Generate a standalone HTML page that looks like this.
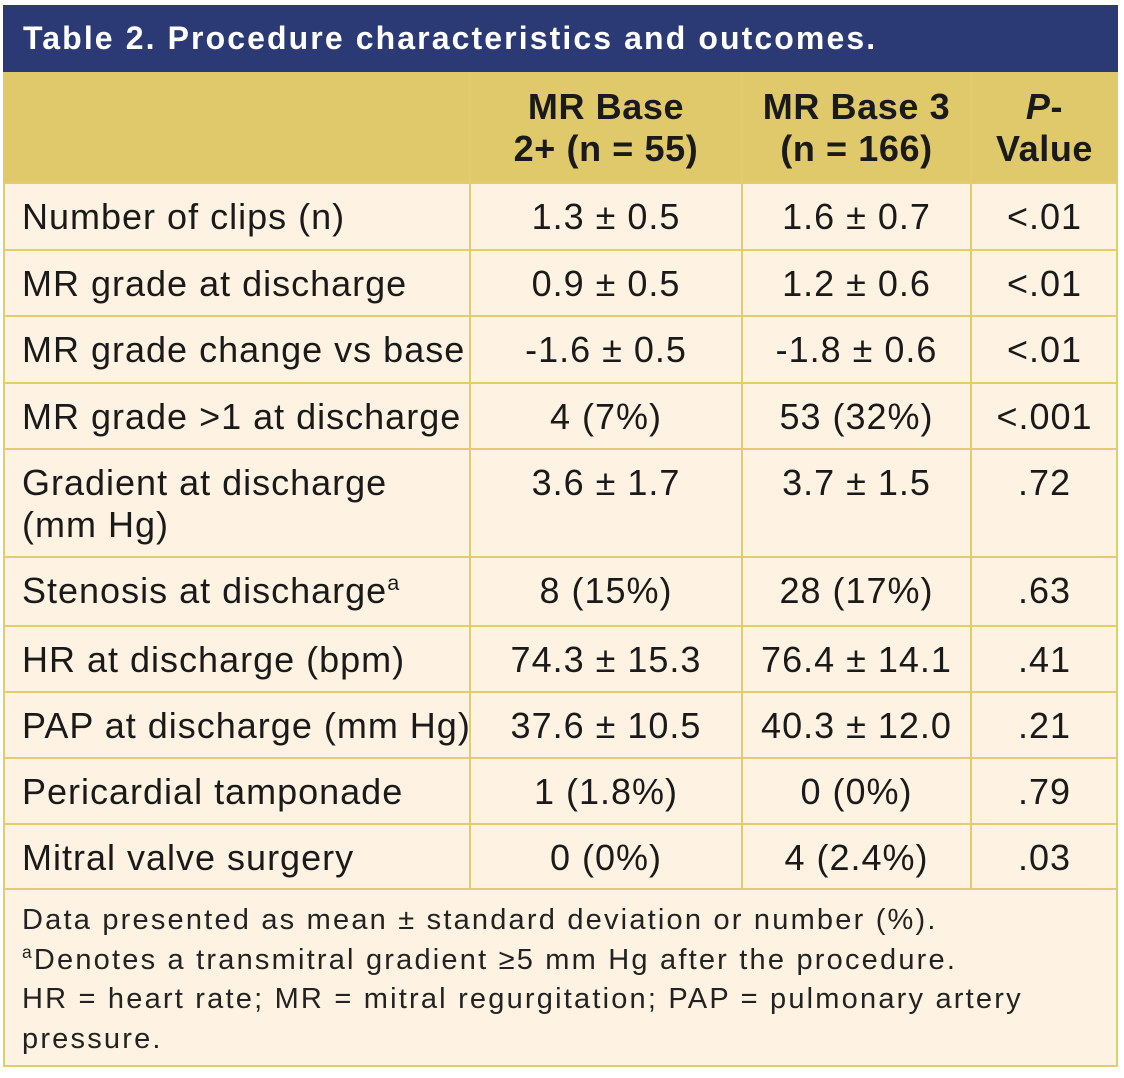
<!DOCTYPE html>
<html><head><meta charset="utf-8"><style>
body{margin:0;width:1124px;height:1078px;background:#fff;font-family:"Liberation Sans",sans-serif;position:relative;overflow:hidden}
.box{position:absolute;left:3px;top:5px;width:1115px;height:1062px;background:#fef3e2;border:2px solid #e3cc6e;box-sizing:border-box}
.title{position:absolute;left:3px;top:5px;width:1115px;height:67px;background:#2b3a75;color:#fff;font-weight:bold;font-size:32px;letter-spacing:2.1px;line-height:67px;padding-left:20px;box-sizing:border-box;white-space:nowrap}
.hdr{position:absolute;left:3px;top:72px;width:1115px;height:111px;background:#e0c96b}
.c{position:absolute;color:#1a1a1a;font-size:36px;letter-spacing:1px;line-height:42px;box-sizing:border-box;white-space:nowrap}
.h{font-weight:bold;text-align:center;letter-spacing:0.6px}
.hl{position:absolute;height:2px;background:#e3cc6e;left:3px;width:1115px}
.vl{position:absolute;width:2px;background:#e3cc6e}
.foot{position:absolute;left:22px;top:901px;font-size:29px;letter-spacing:2.2px;line-height:39.5px;color:#222;white-space:nowrap}
.sp{position:relative;top:-0.6em;font-size:0.6em;line-height:0}
</style></head><body>
<div class="box"></div>
<div class="title">Table 2. Procedure characteristics and outcomes.</div>
<div class="hdr"></div>
<div class="c h" style="left:470px;width:272px;top:86px">MR Base<br>2+ (n = 55)</div>
<div class="c h" style="left:742px;width:229px;top:86px">MR Base 3<br>(n = 166)</div>
<div class="c h" style="left:971px;width:147px;top:86px"><i>P</i>-<br>Value</div>
<div id="rows"></div>
<div class="foot">Data presented as mean ± standard deviation or number (%).<br><span class="sp">a</span>Denotes a transmitral gradient ≥5 mm Hg after the procedure.<br>HR = heart rate; MR = mitral regurgitation; PAP = pulmonary artery<br>pressure.</div>
<script>
const labels=["Number of clips (n)","MR grade at discharge","MR grade change vs base","MR grade >1 at discharge","Gradient at discharge<br>(mm Hg)","Stenosis at discharge<span class='sp'>a</span>","HR at discharge (bpm)","PAP at discharge (mm Hg)","Pericardial tamponade","Mitral valve surgery"];
const base2=["1.3 ± 0.5","0.9 ± 0.5","-1.6 ± 0.5","4 (7%)","3.6 ± 1.7","8 (15%)","74.3 ± 15.3","37.6 ± 10.5","1 (1.8%)","0 (0%)"];
const base3=["1.6 ± 0.7","1.2 ± 0.6","-1.8 ± 0.6","53 (32%)","3.7 ± 1.5","28 (17%)","76.4 ± 14.1","40.3 ± 12.0","0 (0%)","4 (2.4%)"];
const pvals=["<.01","<.01","<.01","<.001",".72",".63",".41",".21",".79",".03"];
const tops=[183,250,316,383,449,557,626,692,758,824,889];
const root=document.getElementById('rows');
function add(html,left,width,top,align,name){
  const d=document.createElement('div');
  d.className='c';
  d.innerHTML=html;
  d.style.left=left+'px';d.style.width=width+'px';d.style.top=(top+13)+'px';d.style.textAlign=align;
  if(align==='left')d.style.paddingLeft='19px';
  
  
  root.appendChild(d);
}
for(let i=0;i<labels.length;i++){
  add(labels[i],3,467,tops[i],'left','row-label');
  add(base2[i],470,272,tops[i],'center','cell-mr-base-2');
  add(base3[i],742,229,tops[i],'center','cell-mr-base-3');
  add(pvals[i],971,147,tops[i],'center','cell-p-value');
}
for(let i=0;i<tops.length;i++){
  const l=document.createElement('div');l.className='hl';l.style.top=(tops[i]-1)+'px';
  
  
  root.appendChild(l);
}
[470,742,971].forEach(x=>{
  const v=document.createElement('div');v.className='vl';v.style.left=(x-1)+'px';v.style.top='72px';v.style.height='817px';
  
  
  root.appendChild(v);
});
</script>
</body></html>
